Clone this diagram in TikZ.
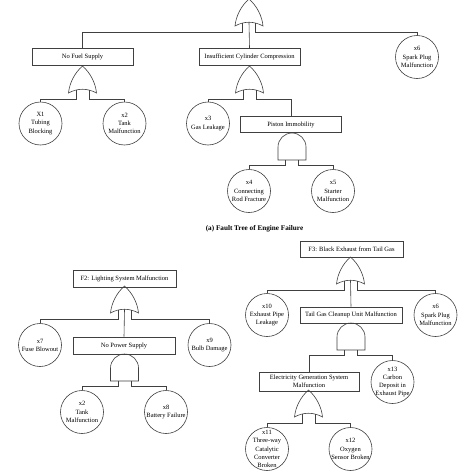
\documentclass[tikz,border=0pt]{standalone}
\usepackage{fontspec}
\setmainfont{Liberation Serif}
\begin{document}
\begin{tikzpicture}[x=1pt,y=-1pt,
  line width=0.6pt,
  lc/.style={draw=black!75},
  gate/.style={draw=black!75, line width=0.6pt},
  evbox/.style={draw=black!75, minimum width=101pt, minimum height=17pt, inner sep=0pt, align=center,
     font=\fontsize{6.5}{8}\selectfont},
  ev/.style={circle, draw=black!75, minimum size=43pt, inner sep=0pt},
  evt/.style={align=center, inner sep=0pt, font=\fontsize{6.5}{8.2}\selectfont},
  orgate/.pic={
    \draw[gate] (-14,0) .. controls (-13,-10) and (-8,-20) .. (0,-27)
       .. controls (8,-20) and (13,-10) .. (14,0)
       .. controls (5,-5) and (-5,-5) .. cycle;
    \coordinate (-l) at (-6.5,-3);
    \coordinate (-r) at (6.5,-3);
    \coordinate (-c) at (0,-3.75);
    \coordinate (-lb) at (-6.5,6);
    \coordinate (-rb) at (6.5,6);
  },
  andgate/.pic={
    \draw[gate] (-14,0) -- (-14,-13) .. controls (-14,-20.7) and (-7.7,-27) .. (0,-27)
       .. controls (7.7,-27) and (14,-20.7) .. (14,-13) -- (14,0) -- cycle;
    \coordinate (-l) at (-6.5,0);
    \coordinate (-r) at (6.5,0);
    \coordinate (-c) at (0,0);
    \coordinate (-lb) at (-6.5,5);
    \coordinate (-rb) at (6.5,5);
  }]
\clip (0,0) rectangle (474,474);
\fill[white] (0,0) rectangle (474,474);

% ---------- (a) Engine failure ----------
\pic (tg) at (249,26) {orgate};
\node[evbox] (nfs) at (82.5,57) {No Fuel Supply};
\node[evbox] (icc) at (249.5,57) {Insufficient Cylinder Compression};
\node[ev] (x6a) at (417,57) {};
\node[evt] at (x6a) {x6\\Spark Plug\\Malfunction};

\pic (g1) at (82.5,93) {orgate};
\pic (g2) at (249.5,93) {orgate};
\node[ev] (x1) at (40.5,123.5) {};
\node[evt] at (x1) {X1\\Tubing\\Blocking};
\node[ev] (x2a) at (124.5,123.5) {};
\node[evt] at (x2a) {x2\\Tank\\Malfunction};
\node[ev] (x3) at (208,123.5) {};
\node[evt] at (x3) {x3\\Gas Leakage};
\node[evbox, minimum height=16pt] (pis) at (291,124.5) {Piston Immobility};

\pic (g3) at (292,160) {andgate};
\node[ev] (x4) at (249,191) {};
\node[evt] at (x4) {x4\\Connecting\\Rod Fracture};
\node[ev] (x5) at (333,191) {};
\node[evt] at (x5) {x5\\Starter\\Malfunction};

\node[font=\fontsize{7.2}{9}\selectfont\bfseries, inner sep=0pt] (cap) at (254.5,229) {(a) Fault Tree of Engine Failure};

\draw[lc] (tg-l) -- (tg-lb) -| (nfs.north);
\draw[lc] (tg-r) -- (tg-rb) -| (x6a.north);
\draw[lc] (tg-c) -- (icc.north);
\draw[lc] (g1-l) -- (g1-lb) -| (x1.north);
\draw[lc] (g1-r) -- (g1-rb) -| (x2a.north);
\draw[lc] (g2-l) -- (g2-lb) -| (x3.north);
\draw[lc] (g2-r) -- (g2-rb) -| (pis.north);
\draw[lc] (g3-l) -- (g3-lb) -| (x4.north);
\draw[lc] (g3-r) -- (g3-rb) -| (x5.north);

% ---------- F2 ----------
\node[evbox, minimum width=103pt] (f2) at (124.5,278.5) {F2: Lighting System Malfunction};
\pic (g4) at (124.5,313) {orgate};
\node[ev] (x7) at (40,345) {};
\node[evt] at (x7) {x7\\Fuse Blowout};
\node[ev] (x9) at (209.5,345) {};
\node[evt] at (x9) {x9\\Bulb Damage};
\node[evbox, minimum width=102pt] (nps) at (124,345.5) {No Power Supply};
\pic (g5) at (124.5,381) {andgate};
\node[ev] (x2b) at (82,412) {};
\node[evt] at (x2b) {x2\\Tank\\Malfunction};
\node[ev] (x8) at (166,412) {};
\node[evt] at (x8) {x8\\Battery Failure};

\draw[lc] (g4-l) -- (g4-lb) -| (x7.north);
\draw[lc] (g4-r) -- (g4-rb) -| (x9.north);
\draw[lc] (g4-c) -- (nps.north);
\draw[lc] (g5-l) -- (g5-lb) -| (x2b.north);
\draw[lc] (g5-r) -- (g5-rb) -| (x8.north);

% ---------- F3 ----------
\node[evbox, minimum width=103pt, minimum height=16pt] (f3) at (351.5,249) {F3: Black Exhaust from Tail Gas};
\pic (g6) at (350.5,284) {orgate};
\node[ev] (x10) at (267,315) {};
\node[evt] at (x10) {x10\\Exhaust Pipe\\Leakage};
\node[ev] (x6b) at (435.5,315) {};
\node[evt] at (x6b) {x6\\Spark Plug\\Malfunction};
\node[evbox, minimum width=102pt, minimum height=16pt] (tgc) at (351,315) {Tail Gas Cleanup Unit Malfunction};
\pic (g7) at (351,350) {andgate};
\node[evbox, minimum width=100pt, minimum height=19pt] (egs) at (309,381.5) {Electricity Generation System\\Malfunction};
\node[ev] (x13) at (392.5,382) {};
\node[evt] at (x13) {x13\\Carbon\\Deposit in\\Exhaust Pipe};
\pic (g8) at (308.5,417) {orgate};
\node[ev] (x11) at (267,449) {};
\node[evt] at (x11) {x11\\Three-way\\Catalytic\\Converter\\Broken};
\node[ev] (x12) at (350.5,449) {};
\node[evt] at (x12) {x12\\Oxygen\\Sensor Broken};

\draw[lc] (g6-l) -- (g6-lb) -| (x10.north);
\draw[lc] (g6-r) -- (g6-rb) -| (x6b.north);
\draw[lc] (g6-c) -- (tgc.north);
\draw[lc] (g7-l) -- (g7-lb) -| (egs.north);
\draw[lc] (g7-r) -- (g7-rb) -| (x13.north);
\draw[lc] (g8-l) -- (g8-lb) -| (x11.north);
\draw[lc] (g8-r) -- (g8-rb) -| (x12.north);
\end{tikzpicture}
\end{document}
